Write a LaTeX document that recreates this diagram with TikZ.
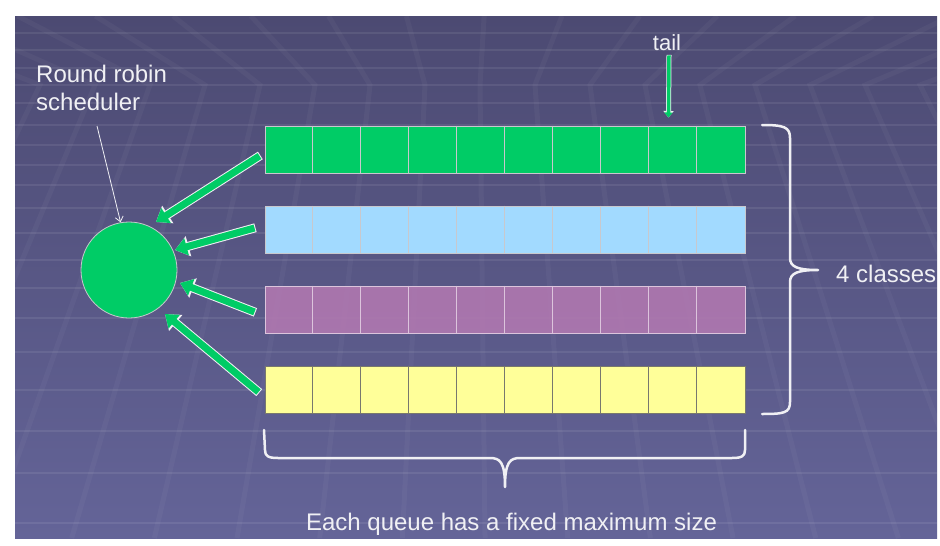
\documentclass[tikz,border=0pt]{standalone}
\usepackage{fontspec}
\setmainfont{Liberation Sans}
\usetikzlibrary{arrows.meta}
\definecolor{bgtop}{RGB}{76,74,114}
\definecolor{bgbot}{RGB}{100,100,152}
\definecolor{qgreen}{RGB}{0,204,102}
\definecolor{qblue}{RGB}{162,218,255}
\definecolor{qpurple}{RGB}{176,120,176}
\definecolor{qyellow}{RGB}{255,255,153}
\definecolor{cellgray}{RGB}{200,200,205}
\definecolor{cellpink}{RGB}{220,196,220}
\definecolor{cellgold}{RGB}{120,120,110}
\definecolor{txt}{RGB}{240,240,244}
\begin{document}
\begin{tikzpicture}[x=1pt,y=-1pt,
  hline/.style={white, opacity=0.08, line width=1.5pt},
  dline/.style={white, opacity=0.035, line width=5pt},
  qrow/.style={minimum width=480pt, minimum height=47pt, inner sep=0pt, line width=1pt},
  lbl/.style={text=txt, inner sep=0pt, font=\fontsize{24}{28}\selectfont},
  bigarrow/.style={draw=qgreen, line width=7pt, -{Triangle[length=12pt,width=17pt]},
    preaction={draw=txt, line width=9pt, shorten <=-1pt, -{Triangle[length=14pt,width=20pt]}}},
  smallarrow/.style={draw=qgreen, line width=3.5pt, -{Triangle[length=5pt,width=8pt]},
    preaction={draw=txt, line width=5pt, shorten <=-0.5pt, -{Triangle[length=6.5pt,width=10pt]}}},
  thinarrow/.style={draw=txt, line width=0.8pt, -{Straight Barb[length=5pt,width=8pt]}},
  brace/.style={draw=txt, line width=2.5pt, line cap=round, line join=round}]
\useasboundingbox (0,0) rectangle (940,546);
\fill[white] (0,0) rectangle (940,546);
\shade[top color=bgtop, bottom color=bgbot] (15,16) rectangle (937,538);
\begin{scope}
  \clip (15,16) rectangle (937,538);
  \foreach \y in {33,50,68,85,103,125,145,165,185,208,233,260,288,318,352,390,431,473,523}
    \draw[hline] (15,\y) -- (937,\y);
  \foreach \d in {-540,-485,...,520}
    \draw[dline] ({470+\d*1.414},16) -- ({470+\d},85) -- ({470+\d*1.503},538);
\end{scope}

% queues
\node[qrow, fill=qgreen, draw=cellgray] (q1) at (505,149.5) {};
\node[qrow, fill=qblue, draw=cellgray] (q2) at (505,229.5) {};
\node[qrow, fill=qpurple, fill opacity=0.9, draw=cellpink] (q3) at (505,309.5) {};
\node[qrow, fill=qyellow, draw=cellgold] (q4) at (505,389.5) {};
\foreach \r/\c in {q1/cellgray, q2/cellgray, q3/cellpink, q4/cellgold}
  \foreach \i in {1,...,9}
    \draw[\c, line width=1pt] ([xshift=\i*48pt]\r.north west) -- ([xshift=\i*48pt]\r.south west);

% scheduler
\node[circle, minimum size=96pt, inner sep=0pt, fill=qgreen, draw=cellgray, line width=0.8pt] (sched) at (129,270) {};

% arrows from queues to scheduler
\draw[bigarrow] ([shift={(-5,6.5)}]q1.west) -- ([shift={(27,-48)}]sched.center);
\draw[bigarrow] ([shift={(-10,-1.5)}]q2.west) -- ([shift={(46,-20)}]sched.center);
\draw[bigarrow] ([shift={(-10,2.5)}]q3.west) -- ([shift={(51,13)}]sched.center);
\draw[bigarrow] ([shift={(-6,2.5)}]q4.west) -- ([shift={(36,44)}]sched.center);

% labels
\node[lbl, anchor=base west, align=left] (rr) at (36,110) {Round robin\\scheduler};
\coordinate (rrs) at (97,126);
\draw[thinarrow] (rrs) -- (sched.100);

\node[lbl, anchor=base, font=\fontsize{22}{26}\selectfont] (tail) at (667,50) {tail};
\draw[smallarrow] ([shift={(2,5)}]tail.south) -- ([shift={(404,-8)}]q1.north west);

% right brace
\draw[brace] (762,125) .. controls (784,125) and (790,127) .. (790,138) -- (790,258)
  .. controls (790,267) and (798,270) .. (818,270)
  .. controls (798,270) and (790,273) .. (790,282) -- (790,402)
  .. controls (790,413) and (784,414) .. (762,414);
\node[lbl, anchor=base west] (cls) at (836,282) {4 classes};

% bottom brace
\draw[brace] (264,430) -- (265,450) .. controls (265,456) and (268,458) .. (278,458) -- (490,458)
  .. controls (500,458) and (505,462) .. (505,487)
  .. controls (505,462) and (510,458) .. (520,458) -- (732,458)
  .. controls (742,458) and (745,456) .. (745,450) -- (745,430);
\node[lbl, anchor=base] (size) at (511.5,530) {Each queue has a fixed maximum size};
\end{tikzpicture}
\end{document}
